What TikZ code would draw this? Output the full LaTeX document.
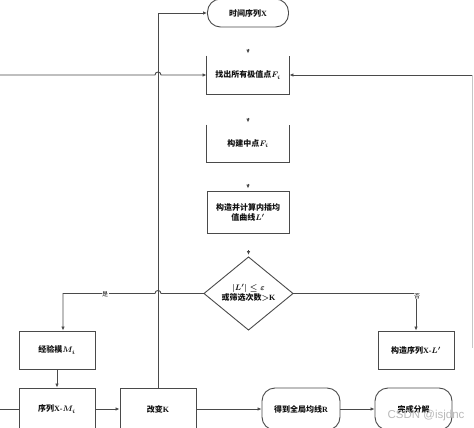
\documentclass[tikz,border=0pt]{standalone}
\usepackage{fontspec}
\setmainfont{Liberation Serif}
\newfontfamily\zhfont{Noto Sans CJK SC}
\newfontfamily\wmfont{Liberation Sans}
\newcommand\zh[1]{{\zhfont\bfseries #1}}
\usetikzlibrary{arrows.meta,calc}
\definecolor{lncol}{HTML}{4A4A4A}
\definecolor{txcol}{HTML}{111111}
\begin{document}
\begin{tikzpicture}[x=1pt,y=-1pt,
  base/.style={draw=lncol,line width=0.9pt,text=txcol,font=\fontsize{8}{10}\selectfont\bfseries\boldmath,align=center,inner sep=1pt},
  box/.style={base,rectangle},
  openbox/.style={base,draw=none,rectangle},
  rbox/.style={base,rounded corners=13pt},
  wire/.style={draw=lncol,line width=0.9pt},
  arr/.style={wire,-{Latex[length=4pt,width=3.5pt]}},
  lab/.style={fill=white,inner sep=0.5pt,text=txcol,font=\zhfont\fontsize{6}{7}\selectfont}]
\useasboundingbox (0,0) rectangle (474,428);
\clip (0,0) rectangle (474,428);

% nodes
\node[rbox,minimum width=81pt,minimum height=28pt] (x) at (248,13) {\zh{时间序列}X};
\node[openbox,minimum width=82pt,minimum height=38pt] (f) at (248,75) {\zh{找出所有极值点}$F_i$};
\draw[wire] (f.north west) -- (f.south west) -- (f.south east) -- (f.north east);
\node[openbox,minimum width=82pt,minimum height=37pt] (m) at (248,143.5) {\zh{构建中点}$F_i$};
\draw[wire] (m.north west) -- (m.south west) -- (m.south east) -- (m.north east);
\node[box,minimum width=82pt,minimum height=42pt] (l) at (248,212) {\zh{构造并计算内插均}\\\zh{值曲线}$L'$};

\coordinate (dt) at (248.5,257);
\coordinate (dl) at (204,293.5);
\coordinate (dr) at (293,293.5);
\coordinate (db) at (248.5,330);
\draw[wire] (dt) -- (dr) -- (db) -- (dl) -- cycle;
\node[base,draw=none] (d) at (248.5,293) {$|L'|\leq\varepsilon$\\\zh{或筛选次数}$>$K};

\node[box,minimum width=76pt,minimum height=38pt] (e) at (57,350) {\zh{经验模}$M_i$};
\node[box,minimum width=76pt,minimum height=42pt] (s) at (57,409) {\zh{序列}X-$M_i$};
\node[box,minimum width=76pt,minimum height=42pt] (k) at (158,409) {\zh{改变}K};
\node[rbox,minimum width=78pt,minimum height=42pt] (r) at (301,409) {\zh{得到全局均线}R};
\node[rbox,minimum width=77pt,minimum height=42pt] (c) at (413.5,409) {\zh{完成分解}};
\node[box,minimum width=76pt,minimum height=38pt] (xl) at (416,350) {\zh{构造序列}X-$L'$};

% arrow stubs (only heads visible)
\draw[arr] ($(f.north)+(0,-7)$) -- ($(f.north)+(0,-2)$);
\draw[arr] ($(m.north)+(0,-7)$) -- ($(m.north)+(0,-2)$);
\draw[arr] ($(l.north)+(0,-7)$) -- ($(l.north)+(0,-2)$);
\draw[arr] ($(dt)+(0,-7)$) -- ($(dt)+(0,-2)$);

% connectors
\draw[arr] (k.north) |- (x.west);
\coordinate (lin) at (0,75);
\draw[arr] (lin) -- (155,75) .. controls (155,71) and (161,71) .. (161,75) -- (f.west);
\coordinate (rin) at (472,75);
\coordinate (rb) at (472,348);
\draw[line width=0.8pt,draw=gray!45] (rb) -- (rin);
\draw[arr] (rin) -- (f.east);

\coordinate (ea) at ($(e.north)+(6,0)$);
\draw[arr] (dl) -- (161,293.5) .. controls (161,289.5) and (155,289.5) .. (155,293.5) -| (ea);
\node[lab] (yes) at (105,294) {是};
\draw[arr] (dr) -| (xl.north);
\node[lab] (no) at (417,296) {否};

\draw[arr] (e.south) -- (s.north);
\draw[arr] (s.east) -- (k.west);
\draw[arr] (k.east) -- (r.west);
\draw[arr] (r.east) -- (c.west);
\coordinate (lout) at (0,409);
\draw[wire] (lout) -- (s.west);

\node[text=gray!55,font=\wmfont\fontsize{11.5}{12}\selectfont,inner sep=0pt] (wm) at (426,416) {CSDN @isjdnc};
\end{tikzpicture}
\end{document}
